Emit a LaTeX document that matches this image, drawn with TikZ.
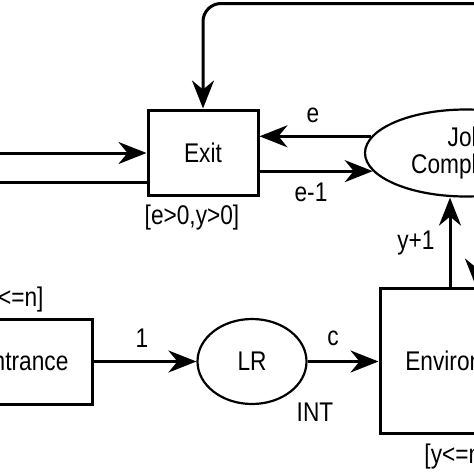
\documentclass[tikz,border=0pt]{standalone}
\usepackage{fontspec}
\setmainfont{Liberation Sans}[FakeStretch=0.84]
\usetikzlibrary{arrows.meta,shapes.geometric}
\begin{document}
\begin{tikzpicture}[x=1pt,y=-1pt,
  every node/.style={font=\fontsize{27}{30}\selectfont, inner sep=0pt},
  boxnode/.style={draw, line width=3pt, rectangle},
  placenode/.style={draw, line width=2.2pt, ellipse},
  lbl/.style={},
  conn/.style={line width=3pt},
  arr/.style={conn, -{Stealth[length=28pt, width=22pt, inset=9pt]}}]
\useasboundingbox (0,0) rectangle (474,474);
\clip (0,0) rectangle (474,474);
\fill[white] (0,0) rectangle (474,474);
% nodes
\node[boxnode, minimum width=110pt, minimum height=85pt] (exit) at (203,152.5) {Exit};
\node[placenode, minimum width=202pt, minimum height=87pt, align=center] (job) at (466,153) {Job\\[-3pt]Completed};
\node[boxnode, minimum width=138pt, minimum height=85pt] (ent) at (23,361.5) {Entrance};
\node[placenode, minimum width=109pt, minimum height=85pt] (lr) at (252,361.5) {LR};
\node[boxnode, minimum width=178pt, minimum height=145pt] (env) at (469,360.5) {Environment};
% coordinates
\coordinate (topr) at (490,3.5);
\coordinate (topc) at (203,3.5);
\coordinate (in1) at (-10,153);
\coordinate (in2) at (-10,182);
\coordinate (yx) at (450,250);
\coordinate (dx) at (476,250);
% connectors
\draw[arr, rounded corners=18pt] (topr) -- (topc) -- (exit.north);
\draw[arr] (in1) -- (in1 -| exit.west);
\draw[conn] (in2) -- (in2 -| exit.west);
\draw[arr] (job.170) -- (job.170 -| exit.east);
\draw[arr] (exit.east |- job.191) -- (job.191);
\draw[arr] (ent.east) -- (lr.west);
\draw[arr] (lr.east) -- (lr.east -| env.west);
\draw[arr] (yx |- env.north) -- (yx |- job.south);
\draw[arr] (dx |- job.south) -- (dx |- env.north);
% labels
\node[lbl] (le) at (313,115) {e};
\node[lbl] (le1) at (311,192) {e-1};
\node[lbl] (lg1) at (192,218) {[e>0,y>0]};
\node[lbl] (l1) at (142,338) {1};
\node[lbl] (lc) at (333,338) {c};
\node[lbl] (lint) at (315,412) {INT};
\node[lbl] (ly1) at (416,243) {y+1};
\node[lbl] (lg2) at (456,457) {[y<=n]};
\node[lbl] (lg3) at (12,300) {[y<=n]};
\end{tikzpicture}
\end{document}
